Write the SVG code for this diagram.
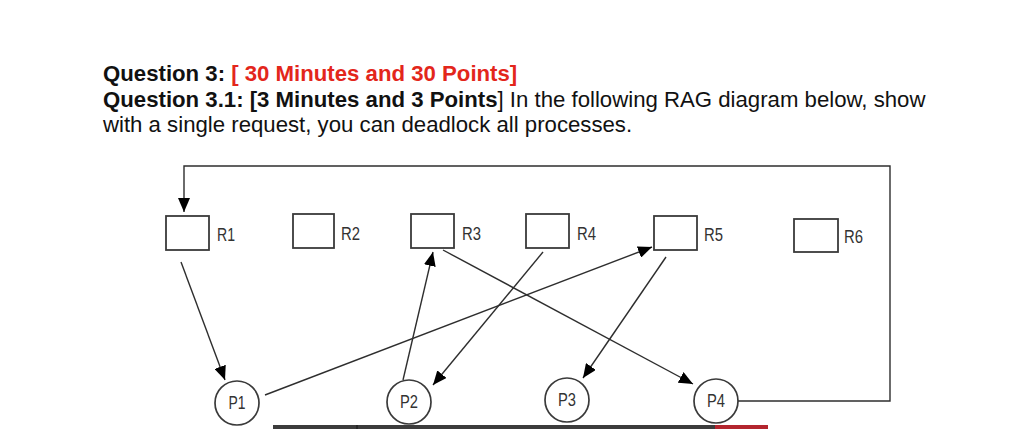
<svg xmlns="http://www.w3.org/2000/svg" width="1024" height="447" viewBox="0 0 1024 447">
<style>
.q{font-family:"Liberation Sans",Arial,sans-serif;font-size:22.2px;fill:#111}
.b{font-weight:bold}
.red{fill:#e3261b}
.box{fill:#fff;stroke:#3a3a3a;stroke-width:1.8}
.proc{fill:#fff;stroke:#3a3a3a;stroke-width:1.7}
.lbl{font-family:"Liberation Sans",Arial,sans-serif;font-size:18px;fill:#333}
.edge{fill:none;stroke:#2e2e2e;stroke-width:1.4}
</style>
<defs>
<marker id="ah" markerUnits="userSpaceOnUse" markerWidth="14" markerHeight="12" refX="14" refY="6" orient="auto">
<path d="M0,0 L14,6 L0,12 z" fill="#000"/>
</marker>
</defs>
<rect width="1024" height="447" fill="#fff"/>
<text class="q" x="103" y="81"><tspan class="b">Question 3: </tspan><tspan class="b red">[ 30 Minutes and 30 Points]</tspan></text>
<text class="q" x="103" y="107"><tspan class="b">Question 3.1: [3 Minutes and 3 Points</tspan>] In the following RAG diagram below, show</text>
<text class="q" x="103" y="132">with a single request, you can deadlock all processes.</text>

<g id="connectors">
<polyline class="edge" points="738,401 890,401 890,166 184,166 184,212" marker-end="url(#ah)"/>
<line class="edge" x1="181" y1="262" x2="225" y2="380" marker-end="url(#ah)"/>
<line class="edge" x1="265" y1="395" x2="652" y2="247" marker-end="url(#ah)"/>
<line class="edge" x1="403" y1="380" x2="433" y2="252" marker-end="url(#ah)"/>
<line class="edge" x1="443" y1="250" x2="693" y2="384" marker-end="url(#ah)"/>
<line class="edge" x1="543" y1="252" x2="433" y2="385" marker-end="url(#ah)"/>
<line class="edge" x1="666" y1="257" x2="583" y2="378" marker-end="url(#ah)"/>
</g>

<g id="R1"><rect class="box" x="166" y="216" width="43" height="34"/><text class="lbl" x="217" y="241" textLength="18" lengthAdjust="spacingAndGlyphs">R1</text></g>
<g id="R2"><rect class="box" x="293" y="214" width="41" height="34"/><text class="lbl" x="341" y="240" textLength="19" lengthAdjust="spacingAndGlyphs">R2</text></g>
<g id="R3"><rect class="box" x="411" y="214" width="43" height="34"/><text class="lbl" x="462" y="240" textLength="19" lengthAdjust="spacingAndGlyphs">R3</text></g>
<g id="R4"><rect class="box" x="526" y="214" width="43" height="34"/><text class="lbl" x="577" y="240" textLength="19" lengthAdjust="spacingAndGlyphs">R4</text></g>
<g id="R5"><rect class="box" x="654" y="216" width="43" height="34"/><text class="lbl" x="704" y="241" textLength="19" lengthAdjust="spacingAndGlyphs">R5</text></g>
<g id="R6"><rect class="box" x="794" y="219" width="44" height="33"/><text class="lbl" x="844" y="243" textLength="19" lengthAdjust="spacingAndGlyphs">R6</text></g>

<g id="P1"><circle class="proc" cx="237" cy="403" r="22"/><text class="lbl" x="237" y="409" text-anchor="middle" textLength="17" lengthAdjust="spacingAndGlyphs">P1</text></g>
<g id="P2"><circle class="proc" cx="409" cy="402" r="22"/><text class="lbl" x="409" y="408" text-anchor="middle" textLength="18" lengthAdjust="spacingAndGlyphs">P2</text></g>
<g id="P3"><circle class="proc" cx="567" cy="400" r="22"/><text class="lbl" x="567" y="406" text-anchor="middle" textLength="18" lengthAdjust="spacingAndGlyphs">P3</text></g>
<g id="P4"><circle class="proc" cx="716" cy="401" r="22"/><text class="lbl" x="716" y="407" text-anchor="middle" textLength="18" lengthAdjust="spacingAndGlyphs">P4</text></g>

<rect x="273" y="425" width="442" height="4" fill="#3c3c3c"/>
<rect x="715" y="425" width="53" height="4" fill="#b3252e"/>
<line x1="357" y1="425" x2="357" y2="429" stroke="#111" stroke-width="1"/>
</svg>
